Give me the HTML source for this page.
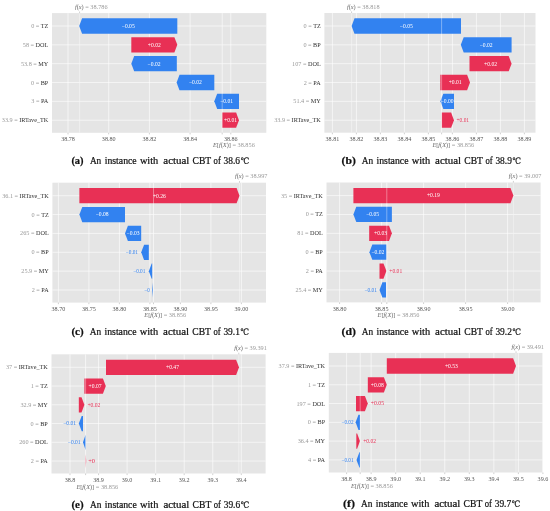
<!DOCTYPE html>
<html><head><meta charset="utf-8"><title>SHAP waterfall plots</title>
<style>
html,body{margin:0;padding:0;background:#fff}
svg{display:block;font-family:"Liberation Serif","Noto Serif CJK SC",serif}
</style></head><body>
<svg width="550" height="511" viewBox="0 0 550 511">
<rect width="550" height="511" fill="#fff"/>
<g>
<rect x="52.0" y="13.1" width="214.30" height="119.70" fill="#E5E5E5"/>
<path d="M68.00 13.1V132.8M108.70 13.1V132.8M149.40 13.1V132.8M190.10 13.1V132.8M230.80 13.1V132.8M52.0 26.00H266.3M52.0 44.84H266.3M52.0 63.68H266.3M52.0 82.52H266.3M52.0 101.36H266.3M52.0 120.20H266.3" stroke="#fff" stroke-width="0.6" fill="none"/>
<path d="M79.60 13.1V132.8M222.20 13.1V132.8" stroke="#f6f6f6" stroke-width="0.55" fill="none"/>
<path d="M177.30 18.35L82.10 18.35L79.20 26.00L82.10 33.65L177.30 33.65Z" fill="#3282F0"/>
<path d="M131.30 37.19L174.40 37.19L177.30 44.84L174.40 52.49L131.30 52.49Z" fill="#E83055"/>
<path d="M176.80 56.03L134.20 56.03L131.30 63.68L134.20 71.33L176.80 71.33Z" fill="#3282F0"/>
<path d="M214.30 74.87L179.50 74.87L176.60 82.52L179.50 90.17L214.30 90.17Z" fill="#3282F0"/>
<path d="M239.00 93.71L217.20 93.71L214.30 101.36L217.20 109.01L239.00 109.01Z" fill="#3282F0"/>
<path d="M222.20 112.55L236.10 112.55L239.00 120.20L236.10 127.85L222.20 127.85Z" fill="#E83055"/>
<path d="M222.20 13.1V132.8" stroke="#fff" stroke-opacity="0.75" stroke-width="0.5" fill="none"/>
<text x="128.25" y="27.85" font-size="5.6" fill="#fff" text-anchor="middle">−0.05</text>
<text x="154.30" y="46.69" font-size="5.6" fill="#fff" text-anchor="middle">+0.02</text>
<text x="154.05" y="65.53" font-size="5.6" fill="#fff" text-anchor="middle">−0.02</text>
<text x="195.45" y="84.37" font-size="5.6" fill="#fff" text-anchor="middle">−0.02</text>
<text x="226.65" y="103.21" font-size="5.6" fill="#fff" text-anchor="middle">−0.01</text>
<text x="230.60" y="122.05" font-size="5.6" fill="#fff" text-anchor="middle">+0.01</text>
<text x="48.30" y="28.00" font-size="6.2" text-anchor="end" fill="#999999">0 = <tspan fill="#303030">TZ</tspan></text>
<text x="48.30" y="46.84" font-size="6.2" text-anchor="end" fill="#999999">58 = <tspan fill="#303030">DOL</tspan></text>
<text x="48.30" y="65.68" font-size="6.2" text-anchor="end" fill="#999999">53.8 = <tspan fill="#303030">MY</tspan></text>
<text x="48.30" y="84.52" font-size="6.2" text-anchor="end" fill="#999999">0 = <tspan fill="#303030">BP</tspan></text>
<text x="48.30" y="103.36" font-size="6.2" text-anchor="end" fill="#999999">3 = <tspan fill="#303030">PA</tspan></text>
<text x="48.30" y="122.20" font-size="6.2" text-anchor="end" fill="#999999">33.9 = <tspan fill="#303030">IRTave_TK</tspan></text>
<path d="M68.00 132.8v1.6" stroke="#888" stroke-width="0.4"/>
<text x="68.00" y="141.10" font-size="6.1" text-anchor="middle" fill="#555">38.78</text>
<path d="M108.70 132.8v1.6" stroke="#888" stroke-width="0.4"/>
<text x="108.70" y="141.10" font-size="6.1" text-anchor="middle" fill="#555">38.80</text>
<path d="M149.40 132.8v1.6" stroke="#888" stroke-width="0.4"/>
<text x="149.40" y="141.10" font-size="6.1" text-anchor="middle" fill="#555">38.82</text>
<path d="M190.10 132.8v1.6" stroke="#888" stroke-width="0.4"/>
<text x="190.10" y="141.10" font-size="6.1" text-anchor="middle" fill="#555">38.84</text>
<path d="M230.80 132.8v1.6" stroke="#888" stroke-width="0.4"/>
<text x="230.80" y="141.10" font-size="6.1" text-anchor="middle" fill="#555">38.86</text>
<path d="M222.20 132.8v1.6M79.60 13.1v-1.6" stroke="#888" stroke-width="0.4"/>
<text x="213.00" y="147.20" font-size="6.1" fill="#999999" textLength="41.8" lengthAdjust="spacingAndGlyphs"><tspan font-style="italic" fill="#666">E</tspan><tspan fill="#666">[</tspan><tspan font-style="italic" fill="#666">f</tspan><tspan fill="#666">(</tspan><tspan font-style="italic" fill="#666">X</tspan><tspan fill="#666">)]</tspan> = 38.856</text>
<text x="75.00" y="8.80" font-size="6.1" fill="#999999" textLength="32.6" lengthAdjust="spacingAndGlyphs"><tspan font-style="italic" fill="#666">f</tspan><tspan fill="#666">(</tspan><tspan font-style="italic" fill="#666">x</tspan><tspan fill="#666">)</tspan> = 38.786</text>
<text x="71.40" y="164.30" font-size="10.3" font-weight="bold" fill="#111" stroke="#111" stroke-width="0.2" textLength="12.2" lengthAdjust="spacingAndGlyphs">(a)</text>
<text y="164.30" font-size="10.3" fill="#111" stroke="#111" stroke-width="0.22"><tspan x="89.90" textLength="11.4" lengthAdjust="spacingAndGlyphs">An</tspan> <tspan x="104.70" textLength="32.0" lengthAdjust="spacingAndGlyphs">instance</tspan> <tspan x="139.90" textLength="18.4" lengthAdjust="spacingAndGlyphs">with</tspan> <tspan x="163.30" textLength="26.0" lengthAdjust="spacingAndGlyphs">actual</tspan> <tspan x="192.50" textLength="18.5" lengthAdjust="spacingAndGlyphs">CBT</tspan> <tspan x="213.60" textLength="7.2" lengthAdjust="spacingAndGlyphs">of</tspan> <tspan x="223.60" textLength="16.5" lengthAdjust="spacingAndGlyphs">38.6</tspan> <tspan x="240.70" font-family="DejaVu Serif" font-size="8.6" textLength="8.5" lengthAdjust="spacingAndGlyphs">℃</tspan></text>
</g>
<g>
<rect x="324.4" y="13.0" width="211.10" height="119.70" fill="#E5E5E5"/>
<path d="M332.40 13.0V132.7M356.40 13.0V132.7M380.40 13.0V132.7M404.40 13.0V132.7M428.40 13.0V132.7M452.40 13.0V132.7M476.40 13.0V132.7M500.40 13.0V132.7M524.40 13.0V132.7M324.4 26.00H535.5M324.4 44.84H535.5M324.4 63.68H535.5M324.4 82.52H535.5M324.4 101.36H535.5M324.4 120.20H535.5" stroke="#fff" stroke-width="0.6" fill="none"/>
<path d="M351.60 13.0V132.7M441.60 13.0V132.7" stroke="#f6f6f6" stroke-width="0.55" fill="none"/>
<path d="M461.00 18.35L354.50 18.35L351.60 26.00L354.50 33.65L461.00 33.65Z" fill="#3282F0"/>
<path d="M511.60 37.19L463.70 37.19L460.80 44.84L463.70 52.49L511.60 52.49Z" fill="#3282F0"/>
<path d="M469.50 56.03L508.70 56.03L511.60 63.68L508.70 71.33L469.50 71.33Z" fill="#E83055"/>
<path d="M440.30 74.87L467.10 74.87L470.00 82.52L467.10 90.17L440.30 90.17Z" fill="#E83055"/>
<path d="M454.00 93.71L443.30 93.71L440.40 101.36L443.30 109.01L454.00 109.01Z" fill="#3282F0"/>
<path d="M441.80 112.55L451.10 112.55L454.00 120.20L451.10 127.85L441.80 127.85Z" fill="#E83055"/>
<path d="M441.60 13.0V132.7" stroke="#fff" stroke-opacity="0.75" stroke-width="0.5" fill="none"/>
<text x="406.30" y="27.85" font-size="5.6" fill="#fff" text-anchor="middle">−0.05</text>
<text x="486.20" y="46.69" font-size="5.6" fill="#fff" text-anchor="middle">−0.02</text>
<text x="490.55" y="65.53" font-size="5.6" fill="#fff" text-anchor="middle">+0.02</text>
<text x="455.15" y="84.37" font-size="5.6" fill="#fff" text-anchor="middle">+0.01</text>
<text x="447.20" y="103.21" font-size="5.6" fill="#fff" text-anchor="middle">−0.00</text>
<text x="456.60" y="122.05" font-size="5.6" fill="#E83055" textLength="12.40" lengthAdjust="spacingAndGlyphs">+0.01</text>
<text x="320.70" y="28.00" font-size="6.2" text-anchor="end" fill="#999999">0 = <tspan fill="#303030">TZ</tspan></text>
<text x="320.70" y="46.84" font-size="6.2" text-anchor="end" fill="#999999">0 = <tspan fill="#303030">BP</tspan></text>
<text x="320.70" y="65.68" font-size="6.2" text-anchor="end" fill="#999999">107 = <tspan fill="#303030">DOL</tspan></text>
<text x="320.70" y="84.52" font-size="6.2" text-anchor="end" fill="#999999">2 = <tspan fill="#303030">PA</tspan></text>
<text x="320.70" y="103.36" font-size="6.2" text-anchor="end" fill="#999999">51.4 = <tspan fill="#303030">MY</tspan></text>
<text x="320.70" y="122.20" font-size="6.2" text-anchor="end" fill="#999999">33.9 = <tspan fill="#303030">IRTave_TK</tspan></text>
<path d="M332.40 132.7v1.6" stroke="#888" stroke-width="0.4"/>
<text x="332.40" y="141.00" font-size="6.1" text-anchor="middle" fill="#555">38.81</text>
<path d="M356.40 132.7v1.6" stroke="#888" stroke-width="0.4"/>
<text x="356.40" y="141.00" font-size="6.1" text-anchor="middle" fill="#555">38.82</text>
<path d="M380.40 132.7v1.6" stroke="#888" stroke-width="0.4"/>
<text x="380.40" y="141.00" font-size="6.1" text-anchor="middle" fill="#555">38.83</text>
<path d="M404.40 132.7v1.6" stroke="#888" stroke-width="0.4"/>
<text x="404.40" y="141.00" font-size="6.1" text-anchor="middle" fill="#555">38.84</text>
<path d="M428.40 132.7v1.6" stroke="#888" stroke-width="0.4"/>
<text x="428.40" y="141.00" font-size="6.1" text-anchor="middle" fill="#555">38.85</text>
<path d="M452.40 132.7v1.6" stroke="#888" stroke-width="0.4"/>
<text x="452.40" y="141.00" font-size="6.1" text-anchor="middle" fill="#555">38.86</text>
<path d="M476.40 132.7v1.6" stroke="#888" stroke-width="0.4"/>
<text x="476.40" y="141.00" font-size="6.1" text-anchor="middle" fill="#555">38.87</text>
<path d="M500.40 132.7v1.6" stroke="#888" stroke-width="0.4"/>
<text x="500.40" y="141.00" font-size="6.1" text-anchor="middle" fill="#555">38.88</text>
<path d="M524.40 132.7v1.6" stroke="#888" stroke-width="0.4"/>
<text x="524.40" y="141.00" font-size="6.1" text-anchor="middle" fill="#555">38.89</text>
<path d="M441.60 132.7v1.6M351.60 13.0v-1.6" stroke="#888" stroke-width="0.4"/>
<text x="432.40" y="147.10" font-size="6.1" fill="#999999" textLength="41.8" lengthAdjust="spacingAndGlyphs"><tspan font-style="italic" fill="#666">E</tspan><tspan fill="#666">[</tspan><tspan font-style="italic" fill="#666">f</tspan><tspan fill="#666">(</tspan><tspan font-style="italic" fill="#666">X</tspan><tspan fill="#666">)]</tspan> = 38.856</text>
<text x="347.00" y="8.70" font-size="6.1" fill="#999999" textLength="32.6" lengthAdjust="spacingAndGlyphs"><tspan font-style="italic" fill="#666">f</tspan><tspan fill="#666">(</tspan><tspan font-style="italic" fill="#666">x</tspan><tspan fill="#666">)</tspan> = 38.818</text>
<text x="341.60" y="164.30" font-size="10.3" font-weight="bold" fill="#111" stroke="#111" stroke-width="0.2" textLength="14.2" lengthAdjust="spacingAndGlyphs">(b)</text>
<text y="164.30" font-size="10.3" fill="#111" stroke="#111" stroke-width="0.22"><tspan x="361.70" textLength="11.4" lengthAdjust="spacingAndGlyphs">An</tspan> <tspan x="376.50" textLength="32.0" lengthAdjust="spacingAndGlyphs">instance</tspan> <tspan x="411.70" textLength="18.4" lengthAdjust="spacingAndGlyphs">with</tspan> <tspan x="435.10" textLength="26.0" lengthAdjust="spacingAndGlyphs">actual</tspan> <tspan x="464.30" textLength="18.5" lengthAdjust="spacingAndGlyphs">CBT</tspan> <tspan x="485.40" textLength="7.2" lengthAdjust="spacingAndGlyphs">of</tspan> <tspan x="495.40" textLength="16.5" lengthAdjust="spacingAndGlyphs">38.9</tspan> <tspan x="512.50" font-family="DejaVu Serif" font-size="8.6" textLength="8.5" lengthAdjust="spacingAndGlyphs">℃</tspan></text>
</g>
<g>
<rect x="52.4" y="182.7" width="213.60" height="119.90" fill="#E5E5E5"/>
<path d="M58.40 182.7V302.6M88.90 182.7V302.6M119.40 182.7V302.6M149.90 182.7V302.6M180.40 182.7V302.6M210.90 182.7V302.6M241.40 182.7V302.6M52.4 195.70H266.0M52.4 214.56H266.0M52.4 233.42H266.0M52.4 252.28H266.0M52.4 271.14H266.0M52.4 290.00H266.0" stroke="#fff" stroke-width="0.6" fill="none"/>
<path d="M239.50 182.7V302.6M153.50 182.7V302.6" stroke="#f6f6f6" stroke-width="0.55" fill="none"/>
<path d="M79.40 188.05L236.60 188.05L239.50 195.70L236.60 203.35L79.40 203.35Z" fill="#E83055"/>
<path d="M125.00 206.91L82.30 206.91L79.40 214.56L82.30 222.21L125.00 222.21Z" fill="#3282F0"/>
<path d="M141.20 225.77L127.90 225.77L125.00 233.42L127.90 241.07L141.20 241.07Z" fill="#3282F0"/>
<path d="M148.80 244.63L144.10 244.63L141.20 252.28L144.10 259.93L148.80 259.93Z" fill="#3282F0"/>
<path d="M152.20 263.49L151.70 263.49L148.80 271.14L151.70 278.79L152.20 278.79Z" fill="#3282F0"/>
<path d="M152.70 282.35L152.70 282.35L152.00 290.00L152.70 297.65L152.70 297.65Z" fill="#3282F0"/>
<path d="M153.50 182.7V302.6" stroke="#fff" stroke-opacity="0.75" stroke-width="0.5" fill="none"/>
<text x="159.45" y="197.55" font-size="5.6" fill="#fff" text-anchor="middle">+0.26</text>
<text x="102.20" y="216.41" font-size="5.6" fill="#fff" text-anchor="middle">−0.08</text>
<text x="133.10" y="235.27" font-size="5.6" fill="#fff" text-anchor="middle">−0.03</text>
<text x="125.80" y="254.13" font-size="5.6" fill="#3282F0" textLength="12.20" lengthAdjust="spacingAndGlyphs">−0.01</text>
<text x="133.20" y="272.99" font-size="5.6" fill="#3282F0" textLength="12.20" lengthAdjust="spacingAndGlyphs">−0.01</text>
<text x="144.30" y="291.85" font-size="5.6" fill="#3282F0" textLength="5.50" lengthAdjust="spacingAndGlyphs">−0</text>
<text x="48.70" y="197.70" font-size="6.2" text-anchor="end" fill="#999999">36.1 = <tspan fill="#303030">IRTave_TK</tspan></text>
<text x="48.70" y="216.56" font-size="6.2" text-anchor="end" fill="#999999">0 = <tspan fill="#303030">TZ</tspan></text>
<text x="48.70" y="235.42" font-size="6.2" text-anchor="end" fill="#999999">265 = <tspan fill="#303030">DOL</tspan></text>
<text x="48.70" y="254.28" font-size="6.2" text-anchor="end" fill="#999999">0 = <tspan fill="#303030">BP</tspan></text>
<text x="48.70" y="273.14" font-size="6.2" text-anchor="end" fill="#999999">25.9 = <tspan fill="#303030">MY</tspan></text>
<text x="48.70" y="292.00" font-size="6.2" text-anchor="end" fill="#999999">2 = <tspan fill="#303030">PA</tspan></text>
<path d="M58.40 302.6v1.6" stroke="#888" stroke-width="0.4"/>
<text x="58.40" y="310.90" font-size="6.1" text-anchor="middle" fill="#555">38.70</text>
<path d="M88.90 302.6v1.6" stroke="#888" stroke-width="0.4"/>
<text x="88.90" y="310.90" font-size="6.1" text-anchor="middle" fill="#555">38.75</text>
<path d="M119.40 302.6v1.6" stroke="#888" stroke-width="0.4"/>
<text x="119.40" y="310.90" font-size="6.1" text-anchor="middle" fill="#555">38.80</text>
<path d="M149.90 302.6v1.6" stroke="#888" stroke-width="0.4"/>
<text x="149.90" y="310.90" font-size="6.1" text-anchor="middle" fill="#555">38.85</text>
<path d="M180.40 302.6v1.6" stroke="#888" stroke-width="0.4"/>
<text x="180.40" y="310.90" font-size="6.1" text-anchor="middle" fill="#555">38.90</text>
<path d="M210.90 302.6v1.6" stroke="#888" stroke-width="0.4"/>
<text x="210.90" y="310.90" font-size="6.1" text-anchor="middle" fill="#555">38.95</text>
<path d="M241.40 302.6v1.6" stroke="#888" stroke-width="0.4"/>
<text x="241.40" y="310.90" font-size="6.1" text-anchor="middle" fill="#555">39.00</text>
<path d="M153.50 302.6v1.6M239.50 182.7v-1.6" stroke="#888" stroke-width="0.4"/>
<text x="144.30" y="317.00" font-size="6.1" fill="#999999" textLength="41.8" lengthAdjust="spacingAndGlyphs"><tspan font-style="italic" fill="#666">E</tspan><tspan fill="#666">[</tspan><tspan font-style="italic" fill="#666">f</tspan><tspan fill="#666">(</tspan><tspan font-style="italic" fill="#666">X</tspan><tspan fill="#666">)]</tspan> = 38.856</text>
<text x="234.90" y="178.40" font-size="6.1" fill="#999999" textLength="32.6" lengthAdjust="spacingAndGlyphs"><tspan font-style="italic" fill="#666">f</tspan><tspan fill="#666">(</tspan><tspan font-style="italic" fill="#666">x</tspan><tspan fill="#666">)</tspan> = 38.997</text>
<text x="71.40" y="335.00" font-size="10.3" font-weight="bold" fill="#111" stroke="#111" stroke-width="0.2" textLength="12.2" lengthAdjust="spacingAndGlyphs">(c)</text>
<text y="335.00" font-size="10.3" fill="#111" stroke="#111" stroke-width="0.22"><tspan x="89.70" textLength="11.4" lengthAdjust="spacingAndGlyphs">An</tspan> <tspan x="104.50" textLength="32.0" lengthAdjust="spacingAndGlyphs">instance</tspan> <tspan x="139.70" textLength="18.4" lengthAdjust="spacingAndGlyphs">with</tspan> <tspan x="163.10" textLength="26.0" lengthAdjust="spacingAndGlyphs">actual</tspan> <tspan x="192.30" textLength="18.5" lengthAdjust="spacingAndGlyphs">CBT</tspan> <tspan x="213.40" textLength="7.2" lengthAdjust="spacingAndGlyphs">of</tspan> <tspan x="223.40" textLength="16.5" lengthAdjust="spacingAndGlyphs">39.1</tspan> <tspan x="240.50" font-family="DejaVu Serif" font-size="8.6" textLength="8.5" lengthAdjust="spacingAndGlyphs">℃</tspan></text>
</g>
<g>
<rect x="326.5" y="182.5" width="214.10" height="119.90" fill="#E5E5E5"/>
<path d="M339.60 182.5V302.4M381.60 182.5V302.4M423.60 182.5V302.4M465.60 182.5V302.4M507.60 182.5V302.4M326.5 195.60H540.6M326.5 214.46H540.6M326.5 233.32H540.6M326.5 252.18H540.6M326.5 271.04H540.6M326.5 289.90H540.6" stroke="#fff" stroke-width="0.6" fill="none"/>
<path d="M513.40 182.5V302.4M386.80 182.5V302.4" stroke="#f6f6f6" stroke-width="0.55" fill="none"/>
<path d="M353.40 187.95L510.50 187.95L513.40 195.60L510.50 203.25L353.40 203.25Z" fill="#E83055"/>
<path d="M391.90 206.81L356.30 206.81L353.40 214.46L356.30 222.11L391.90 222.11Z" fill="#3282F0"/>
<path d="M369.20 225.67L389.00 225.67L391.90 233.32L389.00 240.97L369.20 240.97Z" fill="#E83055"/>
<path d="M386.40 244.53L372.30 244.53L369.40 252.18L372.30 259.83L386.40 259.83Z" fill="#3282F0"/>
<path d="M379.50 263.39L383.50 263.39L386.40 271.04L383.50 278.69L379.50 278.69Z" fill="#E83055"/>
<path d="M386.00 282.25L382.40 282.25L379.50 289.90L382.40 297.55L386.00 297.55Z" fill="#3282F0"/>
<path d="M386.80 182.5V302.4" stroke="#fff" stroke-opacity="0.75" stroke-width="0.5" fill="none"/>
<text x="433.40" y="197.45" font-size="5.6" fill="#fff" text-anchor="middle">+0.19</text>
<text x="372.65" y="216.31" font-size="5.6" fill="#fff" text-anchor="middle">−0.05</text>
<text x="380.55" y="235.17" font-size="5.6" fill="#fff" text-anchor="middle">+0.03</text>
<text x="377.90" y="254.03" font-size="5.6" fill="#fff" text-anchor="middle">−0.02</text>
<text x="389.30" y="272.89" font-size="5.6" fill="#E83055" textLength="12.90" lengthAdjust="spacingAndGlyphs">+0.01</text>
<text x="364.40" y="291.75" font-size="5.6" fill="#3282F0" textLength="12.60" lengthAdjust="spacingAndGlyphs">−0.01</text>
<text x="322.80" y="197.60" font-size="6.2" text-anchor="end" fill="#999999">35 = <tspan fill="#303030">IRTave_TK</tspan></text>
<text x="322.80" y="216.46" font-size="6.2" text-anchor="end" fill="#999999">0 = <tspan fill="#303030">TZ</tspan></text>
<text x="322.80" y="235.32" font-size="6.2" text-anchor="end" fill="#999999">81 = <tspan fill="#303030">DOL</tspan></text>
<text x="322.80" y="254.18" font-size="6.2" text-anchor="end" fill="#999999">0 = <tspan fill="#303030">BP</tspan></text>
<text x="322.80" y="273.04" font-size="6.2" text-anchor="end" fill="#999999">2 = <tspan fill="#303030">PA</tspan></text>
<text x="322.80" y="291.90" font-size="6.2" text-anchor="end" fill="#999999">25.4 = <tspan fill="#303030">MY</tspan></text>
<path d="M339.60 302.4v1.6" stroke="#888" stroke-width="0.4"/>
<text x="339.60" y="310.70" font-size="6.1" text-anchor="middle" fill="#555">38.80</text>
<path d="M381.60 302.4v1.6" stroke="#888" stroke-width="0.4"/>
<text x="381.60" y="310.70" font-size="6.1" text-anchor="middle" fill="#555">38.85</text>
<path d="M423.60 302.4v1.6" stroke="#888" stroke-width="0.4"/>
<text x="423.60" y="310.70" font-size="6.1" text-anchor="middle" fill="#555">38.90</text>
<path d="M465.60 302.4v1.6" stroke="#888" stroke-width="0.4"/>
<text x="465.60" y="310.70" font-size="6.1" text-anchor="middle" fill="#555">38.95</text>
<path d="M507.60 302.4v1.6" stroke="#888" stroke-width="0.4"/>
<text x="507.60" y="310.70" font-size="6.1" text-anchor="middle" fill="#555">39.00</text>
<path d="M386.80 302.4v1.6M513.40 182.5v-1.6" stroke="#888" stroke-width="0.4"/>
<text x="377.60" y="316.80" font-size="6.1" fill="#999999" textLength="41.8" lengthAdjust="spacingAndGlyphs"><tspan font-style="italic" fill="#666">E</tspan><tspan fill="#666">[</tspan><tspan font-style="italic" fill="#666">f</tspan><tspan fill="#666">(</tspan><tspan font-style="italic" fill="#666">X</tspan><tspan fill="#666">)]</tspan> = 38.856</text>
<text x="508.80" y="178.20" font-size="6.1" fill="#999999" textLength="32.6" lengthAdjust="spacingAndGlyphs"><tspan font-style="italic" fill="#666">f</tspan><tspan fill="#666">(</tspan><tspan font-style="italic" fill="#666">x</tspan><tspan fill="#666">)</tspan> = 39.007</text>
<text x="341.60" y="335.00" font-size="10.3" font-weight="bold" fill="#111" stroke="#111" stroke-width="0.2" textLength="14.4" lengthAdjust="spacingAndGlyphs">(d)</text>
<text y="335.00" font-size="10.3" fill="#111" stroke="#111" stroke-width="0.22"><tspan x="361.70" textLength="11.4" lengthAdjust="spacingAndGlyphs">An</tspan> <tspan x="376.50" textLength="32.0" lengthAdjust="spacingAndGlyphs">instance</tspan> <tspan x="411.70" textLength="18.4" lengthAdjust="spacingAndGlyphs">with</tspan> <tspan x="435.10" textLength="26.0" lengthAdjust="spacingAndGlyphs">actual</tspan> <tspan x="464.30" textLength="18.5" lengthAdjust="spacingAndGlyphs">CBT</tspan> <tspan x="485.40" textLength="7.2" lengthAdjust="spacingAndGlyphs">of</tspan> <tspan x="495.40" textLength="16.5" lengthAdjust="spacingAndGlyphs">39.2</tspan> <tspan x="512.50" font-family="DejaVu Serif" font-size="8.6" textLength="8.5" lengthAdjust="spacingAndGlyphs">℃</tspan></text>
</g>
<g>
<rect x="51.5" y="354.3" width="214.10" height="119.20" fill="#E5E5E5"/>
<path d="M70.00 354.3V473.5M98.55 354.3V473.5M127.10 354.3V473.5M155.65 354.3V473.5M184.20 354.3V473.5M212.75 354.3V473.5M241.30 354.3V473.5M51.5 367.30H265.6M51.5 386.05H265.6M51.5 404.80H265.6M51.5 423.55H265.6M51.5 442.30H265.6M51.5 461.05H265.6" stroke="#fff" stroke-width="0.6" fill="none"/>
<path d="M238.80 354.3V473.5M85.60 354.3V473.5" stroke="#f6f6f6" stroke-width="0.55" fill="none"/>
<path d="M106.00 359.65L236.10 359.65L239.00 367.30L236.10 374.95L106.00 374.95Z" fill="#E83055"/>
<path d="M84.40 378.40L102.90 378.40L105.80 386.05L102.90 393.70L84.40 393.70Z" fill="#E83055"/>
<path d="M78.80 397.15L81.50 397.15L84.40 404.80L81.50 412.45L78.80 412.45Z" fill="#E83055"/>
<path d="M83.00 415.90L81.70 415.90L78.80 423.55L81.70 431.20L83.00 431.20Z" fill="#3282F0"/>
<path d="M85.60 434.65L85.60 434.65L83.00 442.30L85.60 449.95L85.60 449.95Z" fill="#3282F0"/>
<path d="M85.60 453.40L85.60 453.40L86.20 461.05L85.60 468.70L85.60 468.70Z" fill="#E83055"/>
<path d="M85.60 354.3V473.5" stroke="#fff" stroke-opacity="0.75" stroke-width="0.5" fill="none"/>
<text x="172.50" y="369.15" font-size="5.6" fill="#fff" text-anchor="middle">+0.47</text>
<text x="95.10" y="387.90" font-size="5.6" fill="#fff" text-anchor="middle">+0.07</text>
<text x="87.40" y="406.65" font-size="5.6" fill="#E83055" textLength="13.00" lengthAdjust="spacingAndGlyphs">+0.02</text>
<text x="63.20" y="425.40" font-size="5.6" fill="#3282F0" textLength="13.00" lengthAdjust="spacingAndGlyphs">−0.01</text>
<text x="67.80" y="444.15" font-size="5.6" fill="#3282F0" textLength="12.70" lengthAdjust="spacingAndGlyphs">−0.01</text>
<text x="88.20" y="462.90" font-size="5.6" fill="#E83055" textLength="6.80" lengthAdjust="spacingAndGlyphs">+0</text>
<text x="47.80" y="369.30" font-size="6.2" text-anchor="end" fill="#999999">37 = <tspan fill="#303030">IRTave_TK</tspan></text>
<text x="47.80" y="388.05" font-size="6.2" text-anchor="end" fill="#999999">1 = <tspan fill="#303030">TZ</tspan></text>
<text x="47.80" y="406.80" font-size="6.2" text-anchor="end" fill="#999999">32.9 = <tspan fill="#303030">MY</tspan></text>
<text x="47.80" y="425.55" font-size="6.2" text-anchor="end" fill="#999999">0 = <tspan fill="#303030">BP</tspan></text>
<text x="47.80" y="444.30" font-size="6.2" text-anchor="end" fill="#999999">260 = <tspan fill="#303030">DOL</tspan></text>
<text x="47.80" y="463.05" font-size="6.2" text-anchor="end" fill="#999999">2 = <tspan fill="#303030">PA</tspan></text>
<path d="M70.00 473.5v1.6" stroke="#888" stroke-width="0.4"/>
<text x="70.00" y="482.28" font-size="6.1" text-anchor="middle" fill="#555">38.8</text>
<path d="M98.55 473.5v1.6" stroke="#888" stroke-width="0.4"/>
<text x="98.55" y="482.28" font-size="6.1" text-anchor="middle" fill="#555">38.9</text>
<path d="M127.10 473.5v1.6" stroke="#888" stroke-width="0.4"/>
<text x="127.10" y="482.28" font-size="6.1" text-anchor="middle" fill="#555">39.0</text>
<path d="M155.65 473.5v1.6" stroke="#888" stroke-width="0.4"/>
<text x="155.65" y="482.28" font-size="6.1" text-anchor="middle" fill="#555">39.1</text>
<path d="M184.20 473.5v1.6" stroke="#888" stroke-width="0.4"/>
<text x="184.20" y="482.28" font-size="6.1" text-anchor="middle" fill="#555">39.2</text>
<path d="M212.75 473.5v1.6" stroke="#888" stroke-width="0.4"/>
<text x="212.75" y="482.28" font-size="6.1" text-anchor="middle" fill="#555">39.3</text>
<path d="M241.30 473.5v1.6" stroke="#888" stroke-width="0.4"/>
<text x="241.30" y="482.28" font-size="6.1" text-anchor="middle" fill="#555">39.4</text>
<path d="M85.60 473.5v1.6M238.80 354.3v-1.6" stroke="#888" stroke-width="0.4"/>
<text x="76.40" y="488.70" font-size="6.1" fill="#999999" textLength="41.8" lengthAdjust="spacingAndGlyphs"><tspan font-style="italic" fill="#666">E</tspan><tspan fill="#666">[</tspan><tspan font-style="italic" fill="#666">f</tspan><tspan fill="#666">(</tspan><tspan font-style="italic" fill="#666">X</tspan><tspan fill="#666">)]</tspan> = 38.856</text>
<text x="234.20" y="350.00" font-size="6.1" fill="#999999" textLength="32.6" lengthAdjust="spacingAndGlyphs"><tspan font-style="italic" fill="#666">f</tspan><tspan fill="#666">(</tspan><tspan font-style="italic" fill="#666">x</tspan><tspan fill="#666">)</tspan> = 39.391</text>
<text x="71.40" y="507.50" font-size="10.3" font-weight="bold" fill="#111" stroke="#111" stroke-width="0.2" textLength="12.2" lengthAdjust="spacingAndGlyphs">(e)</text>
<text y="507.50" font-size="10.3" fill="#111" stroke="#111" stroke-width="0.22"><tspan x="90.00" textLength="11.4" lengthAdjust="spacingAndGlyphs">An</tspan> <tspan x="104.80" textLength="32.0" lengthAdjust="spacingAndGlyphs">instance</tspan> <tspan x="140.00" textLength="18.4" lengthAdjust="spacingAndGlyphs">with</tspan> <tspan x="163.40" textLength="26.0" lengthAdjust="spacingAndGlyphs">actual</tspan> <tspan x="192.60" textLength="18.5" lengthAdjust="spacingAndGlyphs">CBT</tspan> <tspan x="213.70" textLength="7.2" lengthAdjust="spacingAndGlyphs">of</tspan> <tspan x="223.70" textLength="16.5" lengthAdjust="spacingAndGlyphs">39.6</tspan> <tspan x="240.80" font-family="DejaVu Serif" font-size="8.6" textLength="8.5" lengthAdjust="spacingAndGlyphs">℃</tspan></text>
</g>
<g>
<rect x="328.8" y="352.9" width="213.80" height="119.60" fill="#E5E5E5"/>
<path d="M346.60 352.9V472.5M371.14 352.9V472.5M395.68 352.9V472.5M420.22 352.9V472.5M444.76 352.9V472.5M469.30 352.9V472.5M493.84 352.9V472.5M518.38 352.9V472.5M542.92 352.9V472.5M328.8 366.00H542.6M328.8 384.78H542.6M328.8 403.56H542.6M328.8 422.34H542.6M328.8 441.12H542.6M328.8 459.90H542.6" stroke="#fff" stroke-width="0.6" fill="none"/>
<path d="M516.00 352.9V472.5M360.20 352.9V472.5" stroke="#f6f6f6" stroke-width="0.55" fill="none"/>
<path d="M386.80 358.35L513.10 358.35L516.00 366.00L513.10 373.65L386.80 373.65Z" fill="#E83055"/>
<path d="M367.80 377.13L383.90 377.13L386.80 384.78L383.90 392.43L367.80 392.43Z" fill="#E83055"/>
<path d="M356.00 395.91L364.90 395.91L367.80 403.56L364.90 411.21L356.00 411.21Z" fill="#E83055"/>
<path d="M360.00 414.69L358.50 414.69L355.60 422.34L358.50 429.99L360.00 429.99Z" fill="#3282F0"/>
<path d="M356.30 433.47L357.10 433.47L360.00 441.12L357.10 448.77L356.30 448.77Z" fill="#E83055"/>
<path d="M360.00 452.25L359.40 452.25L356.50 459.90L359.40 467.55L360.00 467.55Z" fill="#3282F0"/>
<path d="M360.20 352.9V472.5" stroke="#fff" stroke-opacity="0.75" stroke-width="0.5" fill="none"/>
<text x="451.40" y="367.85" font-size="5.6" fill="#fff" text-anchor="middle">+0.53</text>
<text x="377.30" y="386.63" font-size="5.6" fill="#fff" text-anchor="middle">+0.08</text>
<text x="370.80" y="405.41" font-size="5.6" fill="#E83055" textLength="13.20" lengthAdjust="spacingAndGlyphs">+0.05</text>
<text x="341.50" y="424.19" font-size="5.6" fill="#3282F0" textLength="12.00" lengthAdjust="spacingAndGlyphs">−0.02</text>
<text x="363.20" y="442.97" font-size="5.6" fill="#E83055" textLength="12.80" lengthAdjust="spacingAndGlyphs">+0.02</text>
<text x="341.50" y="461.75" font-size="5.6" fill="#3282F0" textLength="12.00" lengthAdjust="spacingAndGlyphs">−0.01</text>
<text x="325.10" y="368.00" font-size="6.2" text-anchor="end" fill="#999999">37.9 = <tspan fill="#303030">IRTave_TK</tspan></text>
<text x="325.10" y="386.78" font-size="6.2" text-anchor="end" fill="#999999">1 = <tspan fill="#303030">TZ</tspan></text>
<text x="325.10" y="405.56" font-size="6.2" text-anchor="end" fill="#999999">197 = <tspan fill="#303030">DOL</tspan></text>
<text x="325.10" y="424.34" font-size="6.2" text-anchor="end" fill="#999999">0 = <tspan fill="#303030">BP</tspan></text>
<text x="325.10" y="443.12" font-size="6.2" text-anchor="end" fill="#999999">36.4 = <tspan fill="#303030">MY</tspan></text>
<text x="325.10" y="461.90" font-size="6.2" text-anchor="end" fill="#999999">4 = <tspan fill="#303030">PA</tspan></text>
<path d="M346.60 472.5v1.6" stroke="#888" stroke-width="0.4"/>
<text x="346.60" y="481.22" font-size="6.1" text-anchor="middle" fill="#555">38.8</text>
<path d="M371.14 472.5v1.6" stroke="#888" stroke-width="0.4"/>
<text x="371.14" y="481.22" font-size="6.1" text-anchor="middle" fill="#555">38.9</text>
<path d="M395.68 472.5v1.6" stroke="#888" stroke-width="0.4"/>
<text x="395.68" y="481.22" font-size="6.1" text-anchor="middle" fill="#555">39.0</text>
<path d="M420.22 472.5v1.6" stroke="#888" stroke-width="0.4"/>
<text x="420.22" y="481.22" font-size="6.1" text-anchor="middle" fill="#555">39.1</text>
<path d="M444.76 472.5v1.6" stroke="#888" stroke-width="0.4"/>
<text x="444.76" y="481.22" font-size="6.1" text-anchor="middle" fill="#555">39.2</text>
<path d="M469.30 472.5v1.6" stroke="#888" stroke-width="0.4"/>
<text x="469.30" y="481.22" font-size="6.1" text-anchor="middle" fill="#555">39.3</text>
<path d="M493.84 472.5v1.6" stroke="#888" stroke-width="0.4"/>
<text x="493.84" y="481.22" font-size="6.1" text-anchor="middle" fill="#555">39.4</text>
<path d="M518.38 472.5v1.6" stroke="#888" stroke-width="0.4"/>
<text x="518.38" y="481.22" font-size="6.1" text-anchor="middle" fill="#555">39.5</text>
<path d="M542.92 472.5v1.6" stroke="#888" stroke-width="0.4"/>
<text x="542.92" y="481.22" font-size="6.1" text-anchor="middle" fill="#555">39.6</text>
<path d="M360.20 472.5v1.6M516.00 352.9v-1.6" stroke="#888" stroke-width="0.4"/>
<text x="351.00" y="487.60" font-size="6.1" fill="#999999" textLength="41.8" lengthAdjust="spacingAndGlyphs"><tspan font-style="italic" fill="#666">E</tspan><tspan fill="#666">[</tspan><tspan font-style="italic" fill="#666">f</tspan><tspan fill="#666">(</tspan><tspan font-style="italic" fill="#666">X</tspan><tspan fill="#666">)]</tspan> = 38.856</text>
<text x="511.40" y="348.60" font-size="6.1" fill="#999999" textLength="32.6" lengthAdjust="spacingAndGlyphs"><tspan font-style="italic" fill="#666">f</tspan><tspan fill="#666">(</tspan><tspan font-style="italic" fill="#666">x</tspan><tspan fill="#666">)</tspan> = 39.491</text>
<text x="343.10" y="507.30" font-size="10.3" font-weight="bold" fill="#111" stroke="#111" stroke-width="0.2" textLength="12.0" lengthAdjust="spacingAndGlyphs">(f)</text>
<text y="507.30" font-size="10.3" fill="#111" stroke="#111" stroke-width="0.22"><tspan x="361.00" textLength="11.4" lengthAdjust="spacingAndGlyphs">An</tspan> <tspan x="375.80" textLength="32.0" lengthAdjust="spacingAndGlyphs">instance</tspan> <tspan x="411.00" textLength="18.4" lengthAdjust="spacingAndGlyphs">with</tspan> <tspan x="434.40" textLength="26.0" lengthAdjust="spacingAndGlyphs">actual</tspan> <tspan x="463.60" textLength="18.5" lengthAdjust="spacingAndGlyphs">CBT</tspan> <tspan x="484.70" textLength="7.2" lengthAdjust="spacingAndGlyphs">of</tspan> <tspan x="494.70" textLength="16.5" lengthAdjust="spacingAndGlyphs">39.7</tspan> <tspan x="511.80" font-family="DejaVu Serif" font-size="8.6" textLength="8.5" lengthAdjust="spacingAndGlyphs">℃</tspan></text>
</g>
</svg>
</body></html>
